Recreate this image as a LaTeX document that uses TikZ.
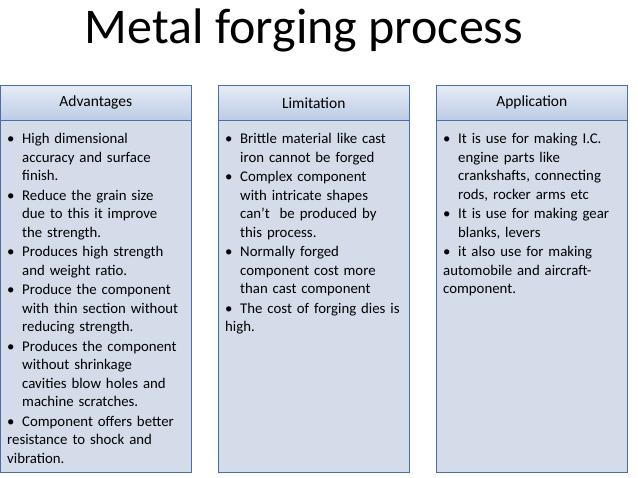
\documentclass[tikz,border=0pt]{standalone}
\usepackage{fontspec}
\setmainfont{Carlito}
\definecolor{edge}{HTML}{4A6EA8}
\definecolor{bodyf}{HTML}{D4DCEA}
\definecolor{headtop}{HTML}{E6ECF6}
\definecolor{headbot}{HTML}{BCCBE4}
\newcommand{\itm}[1]{\par\hangindent=15pt\hangafter=1\noindent\makebox[15pt][l]{\textbullet}{\let\\\newline #1}}
\tikzset{
 head/.style={draw=edge,line width=0.6pt,top color=headtop,bottom color=headbot,minimum width=191pt,minimum height=35pt,anchor=north west,inner sep=0pt,font=\fontsize{15.5}{17}\selectfont},
 body/.style={draw=edge,line width=0.6pt,fill=bodyf,minimum width=191pt,minimum height=352pt,anchor=north west},
 txt/.style={anchor=north west,text width=185pt,inner sep=0pt,font=\fontsize{14.8}{18.5}\selectfont\setlength{\parskip}{1pt}\raggedright}
}
\begin{document}
\begin{tikzpicture}[x=1pt,y=-1pt]
\useasboundingbox (0,0) rectangle (638,478);
\node[font=\fontsize{50}{54}\selectfont] (title) at (304,30) {Metal forging process};
\foreach \n/\x/\h in {a/0/Advantages,l/218/Limitation,p/436/Application}{
 \node[body] (\n b) at (\x,120) {};
 \node[head] (\n h) at (\x,85) {\h};
}
\node[txt] (at) at (7,124) {\itm{High dimensional\\accuracy and surface\\finish.}\itm{Reduce the grain size\\due to this it improve\\the strength.}\itm{Produces high strength\\and weight ratio.}\itm{Produce the component\\with thin section without\\reducing strength.}\itm{Produces the component\\without shrinkage\\cavities blow holes and\\machine scratches.}\itm{Component offers better\\resistance to shock and\\vibration.}};
\node[txt] (lt) at (225,124) {\itm{Brittle material like cast\\iron cannot be forged}\itm{Complex component\\with intricate shapes\\can't\ \ be produced by\\this process.}\itm{Normally forged\\component cost more\\than cast component}\itm{The cost of forging dies is\\high.}};
\node[txt] (pt) at (443,124) {\itm{It is use for making I.C.\\engine parts like\\crankshafts, connecting\\rods, rocker arms etc}\itm{It is use for making gear\\blanks, levers}\itm{it also use for making\\automobile and aircraft-\\component.}};
\end{tikzpicture}
\end{document}
